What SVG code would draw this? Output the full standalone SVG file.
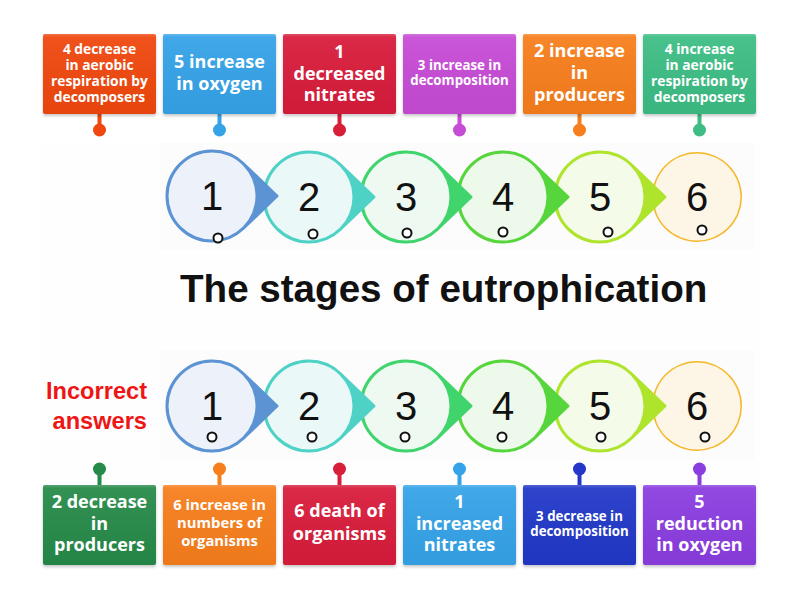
<svg xmlns="http://www.w3.org/2000/svg" xmlns:xlink="http://www.w3.org/1999/xlink" width="800" height="600" viewBox="0 0 800 600">
<defs>
<style>
.box{filter:url(#sh)}
.bt{font-family:"Open Sans","Noto Sans","DejaVu Sans",sans-serif;font-weight:700;fill:#fff;text-anchor:middle}
.s14{font-size:13.8px}.s13{font-size:13.3px}.s15{font-size:14.8px}.s18{font-size:18px}
.num{font-family:"Liberation Sans","Noto Sans",sans-serif;font-size:40px;fill:#111;text-anchor:middle}
.ring{fill:#fff;stroke:#111;stroke-width:2}
.hl{fill:url(#gl)}
</style>
<linearGradient id="gl" x1="0" y1="0" x2="0" y2="1">
<stop offset="0" stop-color="#fff" stop-opacity="0.22"/>
<stop offset="0.04" stop-color="#fff" stop-opacity="0.06"/>
<stop offset="1" stop-color="#000" stop-opacity="0.04"/>
</linearGradient>
<filter id="sh" x="-10%" y="-10%" width="120%" height="130%">
<feDropShadow dx="0" dy="2" stdDeviation="1.5" flood-color="#000" flood-opacity="0.22"/>
</filter>
<path id="drop" d="M31.15,-32.48 L65,0 L31.15,32.48 A45,45 0 1 1 31.15,-32.48 Z" stroke-width="3" stroke-linejoin="round"/>
</defs>
<rect width="800" height="600" fill="#fff"/>
<rect x="40" y="143" width="720" height="420" fill="#fefefe"/>
<rect x="160" y="143" width="595" height="107" fill="#fcfcfc"/>
<rect x="160" y="350" width="595" height="110" fill="#fcfcfc"/>

<!-- top row circles (drawn right to left so pointers overlap next) -->
<g id="top-circles">
<g id="t6" transform="translate(697,197)"><circle r="45" fill="#f5b82a"/><circle r="43.5" fill="#fdf5e5"/><text class="num" y="14">6</text><circle class="ring" cx="5" cy="33" r="4.5"/></g>
<g id="t5" transform="translate(600,197)"><use xlink:href="#drop" fill="#aee52c" stroke="#aee52c"/><circle r="43.5" fill="#f4fbe9"/><text class="num" y="14">5</text><circle class="ring" cx="8" cy="35" r="4.5"/></g>
<g id="t4" transform="translate(503,197)"><use xlink:href="#drop" fill="#56d63c" stroke="#56d63c"/><circle r="43.5" fill="#edf9ea"/><text class="num" y="14">4</text><circle class="ring" cx="0" cy="35" r="4.5"/></g>
<g id="t3" transform="translate(406,197)"><use xlink:href="#drop" fill="#3fd46c" stroke="#3fd46c"/><circle r="43.5" fill="#edf9f1"/><text class="num" y="14">3</text><circle class="ring" cx="1" cy="36" r="4.5"/></g>
<g id="t2" transform="translate(309,197)"><use xlink:href="#drop" fill="#4fd2c6" stroke="#4fd2c6"/><circle r="43.5" fill="#ebf8f8"/><text class="num" y="14">2</text><circle class="ring" cx="4" cy="37" r="4.5"/></g>
<g id="t1" transform="translate(212,196)"><use xlink:href="#drop" fill="#5b93d3" stroke="#5b93d3"/><circle r="43.5" fill="#edf2fa"/><text class="num" y="14">1</text><circle class="ring" cx="6" cy="42" r="4.5"/></g>
</g>

<!-- bottom row circles -->
<g id="bottom-circles">
<g id="b6" transform="translate(697,406)"><circle r="45" fill="#f5b82a"/><circle r="43.5" fill="#fdf5e5"/><text class="num" y="14">6</text><circle class="ring" cx="8" cy="31" r="4.5"/></g>
<g id="b5" transform="translate(600,406)"><use xlink:href="#drop" fill="#aee52c" stroke="#aee52c"/><circle r="43.5" fill="#f4fbe9"/><text class="num" y="14">5</text><circle class="ring" cx="1" cy="31" r="4.5"/></g>
<g id="b4" transform="translate(503,406)"><use xlink:href="#drop" fill="#56d63c" stroke="#56d63c"/><circle r="43.5" fill="#edf9ea"/><text class="num" y="14">4</text><circle class="ring" cx="-1" cy="31" r="4.5"/></g>
<g id="b3" transform="translate(406,406)"><use xlink:href="#drop" fill="#3fd46c" stroke="#3fd46c"/><circle r="43.5" fill="#edf9f1"/><text class="num" y="14">3</text><circle class="ring" cx="-1" cy="31" r="4.5"/></g>
<g id="b2" transform="translate(309,406)"><use xlink:href="#drop" fill="#4fd2c6" stroke="#4fd2c6"/><circle r="43.5" fill="#ebf8f8"/><text class="num" y="14">2</text><circle class="ring" cx="3" cy="31" r="4.5"/></g>
<g id="b1" transform="translate(212,406)"><use xlink:href="#drop" fill="#5b93d3" stroke="#5b93d3"/><circle r="43.5" fill="#edf2fa"/><text class="num" y="14">1</text><circle class="ring" cx="0" cy="31" r="4.5"/></g>
</g>

<text id="title" x="180" y="302" font-family="'Liberation Sans',Arial,sans-serif" font-weight="700" font-size="38.6" fill="#111">The stages of eutrophication</text>
<g id="incorrect-label" font-family="'Liberation Sans',Arial,sans-serif" font-weight="700" font-size="23.6" fill="#ee1515" text-anchor="end">
<text x="147" y="399">Incorrect</text>
<text x="147" y="429">answers</text>
</g>

<!-- connectors: stems and dots -->
<g id="connectors">
<g stroke-width="4">
<line x1="99.5" y1="112" x2="99.5" y2="128" stroke="#f0460f"/>
<line x1="219.5" y1="112" x2="219.5" y2="128" stroke="#36a3e8"/>
<line x1="339.5" y1="112" x2="339.5" y2="128" stroke="#d81f3a"/>
<line x1="459.5" y1="112" x2="459.5" y2="128" stroke="#c74cd6"/>
<line x1="579.5" y1="112" x2="579.5" y2="128" stroke="#f77e1c"/>
<line x1="699.5" y1="112" x2="699.5" y2="128" stroke="#3dbd84"/>
<line x1="99.5" y1="472" x2="99.5" y2="487" stroke="#258a4a"/>
<line x1="219.5" y1="472" x2="219.5" y2="487" stroke="#f77e1c"/>
<line x1="339.5" y1="472" x2="339.5" y2="487" stroke="#d81f3a"/>
<line x1="459.5" y1="472" x2="459.5" y2="487" stroke="#36a3e8"/>
<line x1="579.5" y1="472" x2="579.5" y2="487" stroke="#2437c8"/>
<line x1="699.5" y1="472" x2="699.5" y2="487" stroke="#8b3ee0"/>
</g>
<circle cx="99.5" cy="130" r="6.5" fill="#f0460f"/>
<circle cx="219.5" cy="130" r="6.5" fill="#36a3e8"/>
<circle cx="339.5" cy="130" r="6.5" fill="#d81f3a"/>
<circle cx="459.5" cy="130" r="6.5" fill="#c74cd6"/>
<circle cx="579.5" cy="130" r="6.5" fill="#f77e1c"/>
<circle cx="699.5" cy="130" r="6.5" fill="#3dbd84"/>
<circle cx="99.5" cy="469" r="6.5" fill="#258a4a"/>
<circle cx="219.5" cy="469" r="6.5" fill="#f77e1c"/>
<circle cx="339.5" cy="469" r="6.5" fill="#d81f3a"/>
<circle cx="459.5" cy="469" r="6.5" fill="#36a3e8"/>
<circle cx="579.5" cy="469" r="6.5" fill="#2437c8"/>
<circle cx="699.5" cy="469" r="6.5" fill="#8b3ee0"/>
</g>

<!-- top answer boxes -->
<g id="top-box-1"><rect class="box" x="43" y="34" width="113" height="80" rx="2" fill="#f0460f"/><rect class="hl" x="43" y="34" width="113" height="80" rx="2"/>
<text class="bt s14"><tspan x="99.5" y="54">4 decrease</tspan><tspan x="99.5" y="70">in aerobic</tspan><tspan x="99.5" y="86">respiration by</tspan><tspan x="99.5" y="102">decomposers</tspan></text></g>
<g id="top-box-2"><rect class="box" x="163" y="34" width="113" height="80" rx="2" fill="#36a3e8"/><rect class="hl" x="163" y="34" width="113" height="80" rx="2"/>
<text class="bt s18"><tspan x="219.5" y="68">5 increase</tspan><tspan x="219.5" y="90">in oxygen</tspan></text></g>
<g id="top-box-3"><rect class="box" x="283" y="34" width="113" height="80" rx="2" fill="#d81f3a"/><rect class="hl" x="283" y="34" width="113" height="80" rx="2"/>
<text class="bt s18"><tspan x="339.5" y="58">1</tspan><tspan x="339.5" y="80">decreased</tspan><tspan x="339.5" y="101">nitrates</tspan></text></g>
<g id="top-box-4"><rect class="box" x="403" y="34" width="113" height="80" rx="2" fill="#c74cd6"/><rect class="hl" x="403" y="34" width="113" height="80" rx="2"/>
<text class="bt s13"><tspan x="459.5" y="70">3 increase in</tspan><tspan x="459.5" y="85">decomposition</tspan></text></g>
<g id="top-box-5"><rect class="box" x="523" y="34" width="113" height="80" rx="2" fill="#f77e1c"/><rect class="hl" x="523" y="34" width="113" height="80" rx="2"/>
<text class="bt s18"><tspan x="579.5" y="57">2 increase</tspan><tspan x="579.5" y="79">in</tspan><tspan x="579.5" y="101">producers</tspan></text></g>
<g id="top-box-6"><rect class="box" x="643" y="34" width="113" height="80" rx="2" fill="#3dbd84"/><rect class="hl" x="643" y="34" width="113" height="80" rx="2"/>
<text class="bt s14"><tspan x="699.5" y="54">4 increase</tspan><tspan x="699.5" y="70">in aerobic</tspan><tspan x="699.5" y="86">respiration by</tspan><tspan x="699.5" y="102">decomposers</tspan></text></g>

<!-- bottom answer boxes -->
<g id="bottom-box-1"><rect class="box" x="43" y="485" width="113" height="80" rx="2" fill="#258a4a"/><rect class="hl" x="43" y="485" width="113" height="80" rx="2"/>
<text class="bt s18"><tspan x="99.5" y="508">2 decrease</tspan><tspan x="99.5" y="530">in</tspan><tspan x="99.5" y="551">producers</tspan></text></g>
<g id="bottom-box-2"><rect class="box" x="163" y="485" width="113" height="80" rx="2" fill="#f77e1c"/><rect class="hl" x="163" y="485" width="113" height="80" rx="2"/>
<text class="bt s15"><tspan x="219.5" y="510">6 increase in</tspan><tspan x="219.5" y="528">numbers of</tspan><tspan x="219.5" y="546">organisms</tspan></text></g>
<g id="bottom-box-3"><rect class="box" x="283" y="485" width="113" height="80" rx="2" fill="#d81f3a"/><rect class="hl" x="283" y="485" width="113" height="80" rx="2"/>
<text class="bt s18"><tspan x="339.5" y="517">6 death of</tspan><tspan x="339.5" y="540">organisms</tspan></text></g>
<g id="bottom-box-4"><rect class="box" x="403" y="485" width="113" height="80" rx="2" fill="#36a3e8"/><rect class="hl" x="403" y="485" width="113" height="80" rx="2"/>
<text class="bt s18"><tspan x="459.5" y="508">1</tspan><tspan x="459.5" y="530">increased</tspan><tspan x="459.5" y="551">nitrates</tspan></text></g>
<g id="bottom-box-5"><rect class="box" x="523" y="485" width="113" height="80" rx="2" fill="#2437c8"/><rect class="hl" x="523" y="485" width="113" height="80" rx="2"/>
<text class="bt s13"><tspan x="579.5" y="521">3 decrease in</tspan><tspan x="579.5" y="536">decomposition</tspan></text></g>
<g id="bottom-box-6"><rect class="box" x="643" y="485" width="113" height="80" rx="2" fill="#8b3ee0"/><rect class="hl" x="643" y="485" width="113" height="80" rx="2"/>
<text class="bt s18"><tspan x="699.5" y="508">5</tspan><tspan x="699.5" y="530">reduction</tspan><tspan x="699.5" y="551">in oxygen</tspan></text></g>
</svg>
